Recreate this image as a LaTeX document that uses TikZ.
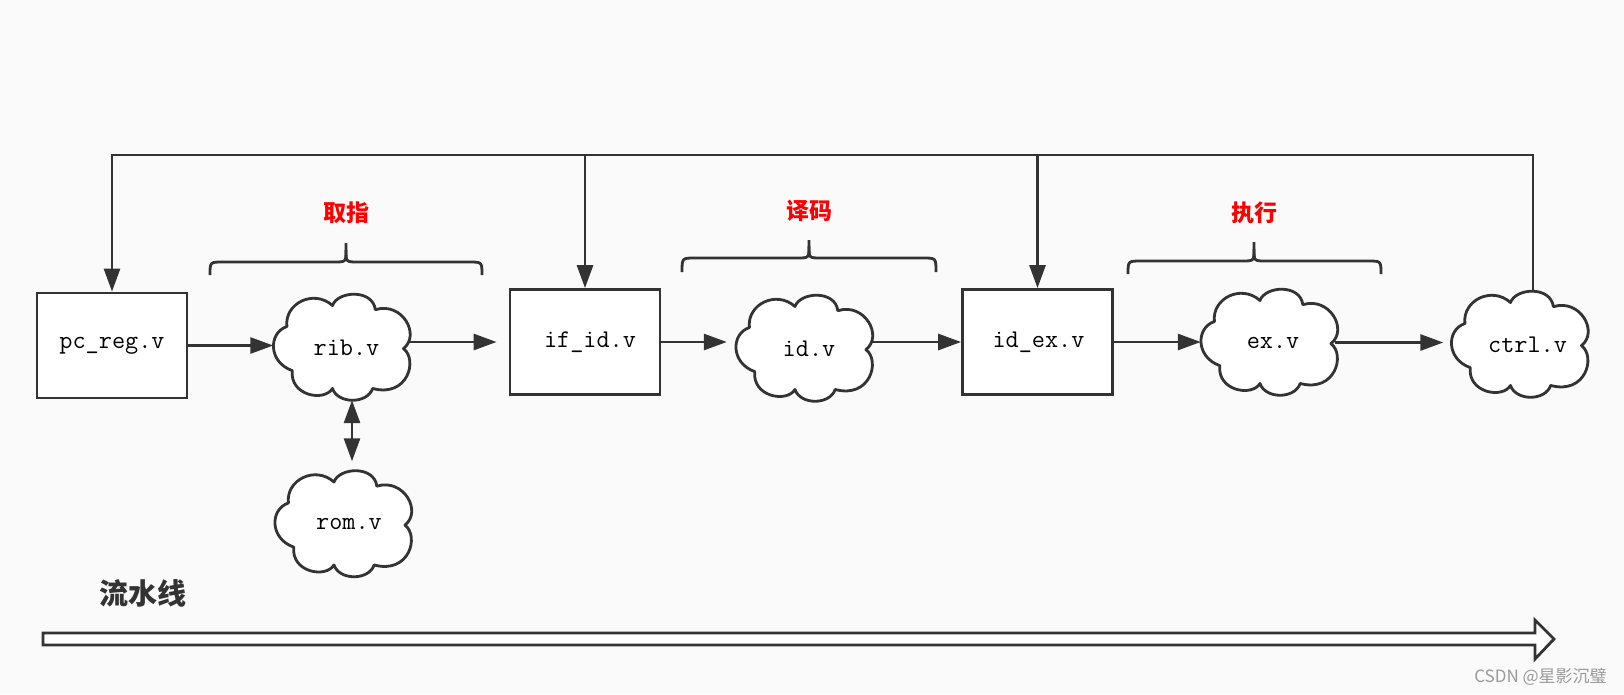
\documentclass[tikz,border=0pt]{standalone}
\usepackage{fontspec}
\newfontfamily\cjk{Noto Sans CJK SC}
\usetikzlibrary{arrows.meta,calc}
\definecolor{linec}{HTML}{333333}
\definecolor{bgc}{HTML}{FAFAFA}
\definecolor{stagec}{HTML}{FF0000}
\definecolor{wmc}{HTML}{9A9A9A}
\newcommand\lblfont{\fontsize{25.5}{25.5}\selectfont\ttfamily}
\newcommand\stagefont{\cjk\bfseries\fontsize{23}{23}\selectfont}
\newcommand\offtext[3]{\raisebox{-#2pt}{\hspace*{#1pt}\hspace*{#1pt}#3}}
\tikzset{
  line/.style={draw=linec, line width=2.8pt},
  arr/.style={line, -{Triangle[length=23pt,width=16pt]}},
  arrtwo/.style={line, {Triangle[length=23pt,width=16pt]}-{Triangle[length=23pt,width=16pt]}},
  box/.style={line, fill=white, minimum width=150pt, minimum height=105pt, inner sep=0pt, font=\lblfont},
  cloudnode/.style={minimum width=134pt, minimum height=105pt, inner sep=0pt, font=\lblfont},
  stage/.style={text=stagec, font=\stagefont, inner sep=0pt},
  cloudpic/.pic={
    \begin{scope}[x=134pt,y=-105pt,shift={(-0.5,-0.5)}]
      \draw[line, fill=white, line join=round]
        (0.14,0.72) .. controls (-0.04,0.64) and (-0.04,0.36) .. (0.10,0.30)
        .. controls (0.08,0.08) and (0.30,-0.06) .. (0.44,0.10)
        .. controls (0.48,-0.04) and (0.74,-0.06) .. (0.76,0.14)
        .. controls (0.96,0.06) and (1.10,0.38) .. (0.97,0.51)
        .. controls (1.08,0.62) and (1.00,0.98) .. (0.74,0.89)
        .. controls (0.70,1.04) and (0.48,1.04) .. (0.44,0.89)
        .. controls (0.38,1.02) and (0.12,0.96) .. (0.14,0.72) -- cycle;
    \end{scope}
  }
}
\begin{document}
\begin{tikzpicture}[x=1pt,y=-1pt]
\fill[bgc] (0,0) rectangle (1624,694);
\useasboundingbox (0,0) rectangle (1624,694);

% stage braces
\draw[line] (210,275) .. controls (210,262) .. (223,262) -- (334,262) .. controls (346,262) .. (346,250) -- (346,243);
\draw[line] (346,250) .. controls (346,262) .. (358,262) -- (469,262) .. controls (482,262) .. (482,275);
\draw[line] (682,272) .. controls (682,258) .. (695,258) -- (797,258) .. controls (809,258) .. (809,246) -- (809,240);
\draw[line] (809,246) .. controls (809,258) .. (821,258) -- (923,258) .. controls (936,258) .. (936,272);
\draw[line] (1128,274) .. controls (1128,261) .. (1141,261) -- (1242,261) .. controls (1254,261) .. (1254,249) -- (1254,242);
\draw[line] (1254,249) .. controls (1254,261) .. (1266,261) -- (1368,261) .. controls (1381,261) .. (1381,274);

\node[stage] (s1) at (346,213) {取指};
\node[stage] (s2) at (809,211) {译码};
\node[stage] (s3) at (1254,213) {执行};

% boxes
\node[box] (pcreg) at (112,345.5) {\offtext{0}{8}{pc\_reg.v}};
\node[box] (ifid) at (585,342) {\offtext{5}{5}{if\_id.v}};
\node[box] (idex) at (1037.5,342) {\offtext{1}{5}{id\_ex.v}};

% clouds
\pic at (340.5,347.5) {cloudpic};
\node[cloudnode] (rib) at (340.5,347.5) {\offtext{6}{2}{rib.v}};
\pic at (342,524) {cloudpic};
\node[cloudnode] (rom) at (342,524) {\offtext{7}{6}{rom.v}};
\pic at (803,348.5) {cloudpic};
\node[cloudnode] (id) at (803,348.5) {\offtext{6}{1}{id.v}};
\pic at (1268,342.5) {cloudpic};
\node[cloudnode] (ex) at (1268,342.5) {\offtext{5}{4}{ex.v}};
\pic at (1518.5,344.5) {cloudpic};
\node[cloudnode] (ctrl) at (1518.5,344.5) {\offtext{9}{5}{ctrl.v}};

% connectors
\coordinate (bus) at (0,155);
\coordinate (ctrltop) at ($(ctrl.north)+(14.5,0)$);
\draw[arr] (ctrltop) |- (bus -| pcreg.north) -- (pcreg.north);
\draw[arr] (bus -| ifid.north) -- (ifid.north);
\draw[arr] (bus -| idex.north) -- (idex.north);

\draw[arr] (pcreg.east) -- (pcreg.east -| rib.west);
\coordinate (ifidtip) at ($(ifid.west)+(-12,0)$);
\draw[arr] (rib.east |- ifid) -- (ifidtip);
\coordinate (ribbot) at ($(rib.south)+(11.5,0)$);
\coordinate (romtop) at ($(rom.north)+(0,-10)$);
\draw[arrtwo] (ribbot) -- (ribbot |- romtop);
\coordinate (idtip) at ($(id.west)+(-9,0)$);
\draw[arr] (ifid.east) -- (ifid.east -| idtip);
\draw[arr] (id.east |- idex) -- (idex.west);
\draw[arr] (idex.east) -- (idex.east -| ex.west);
\coordinate (ctrltip) at ($(ctrl.west)+(-8,0)$);
\draw[arr] (ex.east) -- (ex.east -| ctrltip);

% pipeline arrow
\node[font=\cjk\bfseries\fontsize{29}{29}\selectfont, text=linec, inner sep=0pt] (pipe) at (143,593) {流水线};
\draw[line, fill=white] (43,633) -- (1535,633) -- (1535,620) -- (1554,639) -- (1535,659) -- (1535,645) -- (43,645) -- cycle;

\node[text=wmc, font=\cjk\fontsize{17}{17}\selectfont, inner sep=0pt] (wm) at (1540.5,677) {CSDN @星影沉璧};
\end{tikzpicture}
\end{document}
